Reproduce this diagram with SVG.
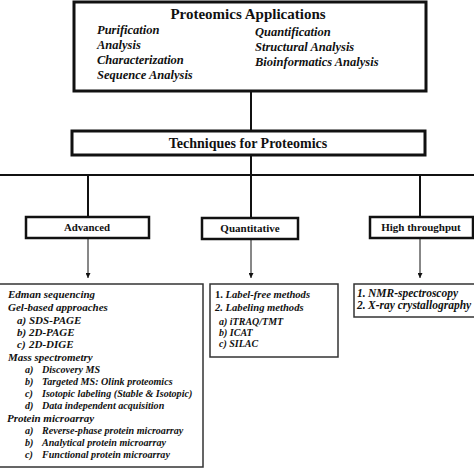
<svg xmlns="http://www.w3.org/2000/svg" width="474" height="474" viewBox="0 0 474 474">
<defs>
<marker id="arr" viewBox="0 0 10 10" refX="10" refY="5" markerWidth="5" markerHeight="5" orient="auto" markerUnits="userSpaceOnUse">
<path d="M0,0 L10,5 L0,10 z" fill="#111"/>
</marker>
<style>
text{fill:#111}
.h{font-weight:bold}
.bi{font-weight:bold;font-style:italic}
.box{fill:#fff;stroke:#111}
.thick{stroke-width:3}
.mid{stroke-width:2.5}
.thin{stroke-width:1.5;stroke:#333}
.conn{stroke:#111;fill:none}
</style>
</defs>
<rect width="474" height="474" fill="#fff"/>
<g id="connectors">
<line class="conn" x1="251" y1="91" x2="251" y2="131" stroke-width="2"/>
<line class="conn" x1="251" y1="155" x2="251" y2="175" stroke-width="2"/>
<line class="conn" x1="0" y1="175" x2="474" y2="175" stroke-width="2"/>
<line class="conn" x1="88" y1="175" x2="88" y2="217" stroke-width="2"/>
<line class="conn" x1="251" y1="175" x2="251" y2="218" stroke-width="2"/>
<line class="conn" x1="420" y1="175" x2="420" y2="217" stroke-width="2"/>
<line class="conn" x1="88" y1="238" x2="88" y2="278" stroke-width="1" marker-end="url(#arr)"/>
<line class="conn" x1="251" y1="239" x2="251" y2="278" stroke-width="1" marker-end="url(#arr)"/>
<line class="conn" x1="420" y1="238" x2="420" y2="278" stroke-width="1" marker-end="url(#arr)"/>
</g>
<g font-family="'Liberation Serif', 'DejaVu Serif', serif">
<g id="applications">
<rect class="box thick" x="74" y="2" width="352" height="89"/>
<text class="h" x="248" y="19" text-anchor="middle" font-size="15">Proteomics Applications</text>
<text class="bi" x="97" y="34" font-size="12.5">Purification</text>
<text class="bi" x="97" y="49" font-size="12.5">Analysis</text>
<text class="bi" x="97" y="64" font-size="12.5">Characterization</text>
<text class="bi" x="97" y="79" font-size="12.5">Sequence Analysis</text>
<text class="bi" x="255" y="36" font-size="12.5">Quantification</text>
<text class="bi" x="255" y="51" font-size="12.5">Structural Analysis</text>
<text class="bi" x="255" y="66" font-size="12.5">Bioinformatics Analysis</text>
</g>
<g id="techniques">
<rect class="box thick" x="72" y="131" width="353" height="24"/>
<text class="h" x="248" y="148" text-anchor="middle" font-size="14">Techniques for Proteomics</text>
</g>
<g id="advanced">
<rect class="box mid" x="26" y="217" width="123" height="21"/>
<text class="h" x="87" y="231" text-anchor="middle" font-size="10.8">Advanced</text>
</g>
<g id="quantitative">
<rect class="box mid" x="202" y="218" width="96" height="21"/>
<text class="h" x="250" y="232" text-anchor="middle" font-size="11">Quantitative</text>
</g>
<g id="highthroughput">
<rect class="box mid" x="370" y="217" width="103" height="21"/>
<text class="h" x="421" y="231" text-anchor="middle" font-size="11">High throughput</text>
</g>
<g id="advanced-details">
<rect class="box thin" x="-2" y="284" width="205" height="183"/>
<g class="bi" font-size="11">
<text x="8" y="298">Edman sequencing</text>
<text x="8" y="311">Gel-based approaches</text>
<text x="8" y="361">Mass spectrometry</text>
<text x="7" y="422">Protein microarray</text>
<text x="17" y="324">a)</text><text x="29" y="324">SDS-PAGE</text>
<text x="17" y="336">b)</text><text x="29" y="336">2D-PAGE</text>
<text x="17" y="348">c)</text><text x="29" y="348">2D-DIGE</text>
</g>
<g class="bi" font-size="10.1">
<text x="25" y="373">a)</text><text x="42" y="373">Discovery MS</text>
<text x="25" y="385">b)</text><text x="42" y="385">Targeted MS: Olink proteomics</text>
<text x="25" y="397">c)</text><text x="42" y="397">Isotopic labeling (Stable &amp; Isotopic)</text>
<text x="25" y="409">d)</text><text x="42" y="409">Data independent acquisition</text>
<text x="25" y="434">a)</text><text x="42" y="434">Reverse-phase protein microarray</text>
<text x="25" y="446">b)</text><text x="42" y="446">Analytical protein microarray</text>
<text x="25" y="458">c)</text><text x="42" y="458">Functional protein microarray</text>
</g>
</g>
<g id="quantitative-details">
<rect class="box thin" x="210" y="284" width="128" height="73"/>
<g class="bi" font-size="10.6">
<text x="215" y="298"><tspan font-style="normal">1.</tspan> Label-free methods</text>
<text x="215" y="311">2. Labeling methods</text>
</g>
<g class="bi" font-size="10">
<text x="219" y="325">a) iTRAQ/TMT</text>
<text x="219" y="336">b) ICAT</text>
<text x="219" y="347">c) SILAC</text>
</g>
</g>
<g id="highthroughput-details">
<rect class="box thin" x="354" y="284" width="124" height="33"/>
<g class="bi" font-size="11.5">
<text x="357" y="297">1.</text><text x="368" y="297">NMR-spectroscopy</text>
<text x="357" y="309">2.</text><text x="368" y="309">X-ray crystallography</text>
</g>
</g>
</g>
</svg>
